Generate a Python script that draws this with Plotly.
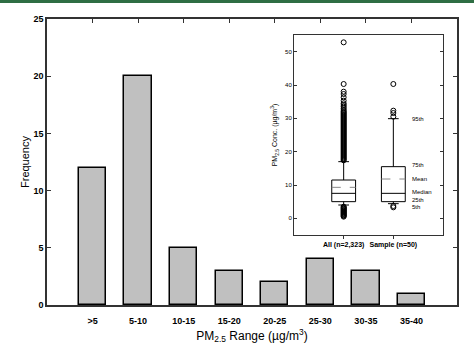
import plotly.graph_objects as go

# ---- Data ----
categories = [">5", "5-10", "10-15", "15-20", "20-25", "25-30", "30-35", "35-40"]
frequency = [12, 20, 5, 3, 2, 4, 3, 1]

box_labels = ["All (n=2,323)", "Sample (n=50)"]
box_q1 = [5.0, 5.0]
box_median = [7.5, 7.5]
box_q3 = [11.5, 15.5]
box_mean = [9.3, 11.8]
box_p5 = [4.0, 4.4]
box_p95 = [17.0, 29.9]

all_outliers = [0.5, 0.7, 0.9, 1.1, 1.3, 1.5, 1.7, 1.9, 2.1, 2.3, 2.5, 2.7, 2.9, 3.1, 3.3, 3.5,
                17.4, 17.7, 18.0, 18.3, 18.6, 18.9, 19.2, 19.5, 19.8, 20.1, 20.4, 20.7,
                21.0, 21.3, 21.6, 21.9, 22.2, 22.5, 22.8, 23.1, 23.4, 23.7, 24.0, 24.3,
                24.6, 24.9, 25.2, 25.5, 25.8, 26.1, 26.4, 26.7, 27.0, 27.3, 27.6, 27.9,
                28.2, 28.5, 28.8, 29.1, 29.4, 29.7, 30.0, 30.3, 30.6, 30.9, 31.2, 31.5,
                31.8, 32.1, 32.5, 33.0, 33.5, 34.0, 34.5, 35.3, 36.3, 37.3, 38.0, 40.3, 52.8]
sample_outliers = [3.3, 3.7, 30.5, 31.6, 32.3, 40.3]

pct_labels = ["95th", "75th", "Mean", "Median", "25th", "5th"]
pct_values = [29.9, 15.9, 11.8, 7.9, 5.6, 3.4]

FONT = "Liberation Sans, Arial, sans-serif"
pos = list(range(1, len(categories) + 1))
bpos = [1, 2]
half_w = 0.24

fig = go.Figure()

# Histogram-like bars
fig.add_trace(go.Bar(
    x=pos, y=frequency, width=0.6,
    marker=dict(color="#c0c0c0", line=dict(color="black", width=1.5)),
    xaxis="x", yaxis="y", showlegend=False,
))

# Inset box plots
fig.add_trace(go.Box(
    x=bpos, q1=box_q1, median=box_median, q3=box_q3,
    lowerfence=box_p5, upperfence=box_p95,
    width=2 * half_w, whiskerwidth=0.45,
    fillcolor="rgba(0,0,0,0)", line=dict(color="black", width=1),
    xaxis="x3", yaxis="y3", showlegend=False, boxpoints=False,
))

# Mean dashed lines
for p, m in zip(bpos, box_mean):
    fig.add_trace(go.Scatter(
        x=[p - half_w, p + half_w], y=[m, m], mode="lines",
        line=dict(color="#888888", width=1, dash="dash"),
        xaxis="x3", yaxis="y3", showlegend=False,
    ))

# Outliers
fig.add_trace(go.Scatter(
    x=[bpos[0]] * len(all_outliers), y=all_outliers, mode="markers",
    marker=dict(symbol="circle-open", size=5, color="black", line=dict(width=1)),
    xaxis="x3", yaxis="y3", showlegend=False,
))
fig.add_trace(go.Scatter(
    x=[bpos[1]] * len(sample_outliers), y=sample_outliers, mode="markers",
    marker=dict(symbol="circle-open", size=5, color="black", line=dict(width=1)),
    xaxis="x3", yaxis="y3", showlegend=False,
))

# Percentile labels
for lab, v in zip(pct_labels, pct_values):
    fig.add_annotation(x=2.33, y=v, xref="x3", yref="y3", text=lab,
                       showarrow=False, xanchor="left", yanchor="middle",
                       font=dict(family=FONT, size=6, color="black"))

W, H = 474, 347
ml, mr, mt, mb = 47, 17, 19, 42
pw, ph = W - ml - mr, H - mt - mb

ix0, ix1 = (294 - ml) / pw, (443 - ml) / pw
iy0, iy1 = (H - mb - 235) / ph, (H - mb - 35) / ph

fig.update_layout(
    width=W, height=H,
    margin=dict(l=ml, r=mr, t=mt, b=mb, autoexpand=False),
    paper_bgcolor="white", plot_bgcolor="white",
    font=dict(family=FONT, color="black"),
    xaxis=dict(
        range=[0, 9], tickvals=pos, ticktext=categories, automargin=False,
        showgrid=False, zeroline=False,
        ticks="inside", ticklen=4, tickcolor="#333333", layer="below traces",
        showline=True, linecolor="#333333", linewidth=1.5, mirror="ticks",
        ticklabelstandoff=6,
        tickfont=dict(size=9, family=FONT, weight="bold"),
        title=dict(text="PM<sub>2.5</sub> Range (µg/m<sup>3</sup>)",
                   font=dict(size=12, family=FONT), standoff=7),
    ),
    yaxis=dict(
        range=[0, 25], tickvals=[0, 5, 10, 15, 20, 25], automargin=False,
        showgrid=False, zeroline=False,
        ticks="inside", ticklen=4, tickcolor="#333333",
        showline=True, linecolor="#333333", linewidth=1.5, mirror="ticks",
        tickfont=dict(size=9, family=FONT, weight="bold"),
        title=dict(text="Frequency", font=dict(size=11, family=FONT), standoff=2),
    ),
    xaxis3=dict(
        domain=[ix0, ix1], anchor="y3", range=[0, 3], automargin=False,
        tickvals=bpos, ticktext=box_labels,
        ticks="outside", ticklen=3, tickcolor="#333333",
        showgrid=False, zeroline=False,
        showline=True, linecolor="#333333", linewidth=1, mirror=True,
        tickfont=dict(size=7, family=FONT, weight="bold"),
    ),
    yaxis3=dict(
        domain=[iy0, iy1], anchor="x3", range=[-5, 55], automargin=False,
        tickvals=[0, 10, 20, 30, 40, 50],
        ticks="inside", ticklen=3, tickcolor="#333333",
        showgrid=False, zeroline=False,
        showline=True, linecolor="#333333", linewidth=1, mirror="ticks",
        tickfont=dict(size=6, family=FONT),
        title=dict(text="PM<sub>2.5</sub> Conc. (µg/m<sup>3</sup>)",
                   font=dict(size=7, family=FONT), standoff=6),
    ),
    bargap=0,
)

# Dark green band at the very top
fig.add_shape(type="rect", xref="paper", yref="paper",
              x0=-0.2, x1=1.2, ysizemode="pixel", yanchor=1 + mt / ph,
              y0=-3, y1=2, fillcolor="#2f6e44", line=dict(width=0), layer="above")

fig.write_html("out.html")
